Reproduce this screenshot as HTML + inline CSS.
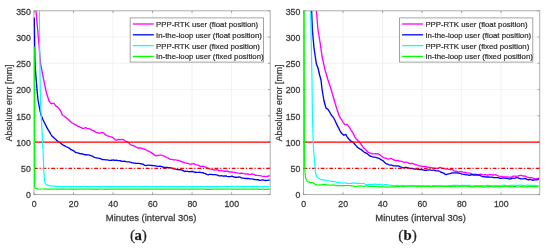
<!DOCTYPE html>
<html><head><meta charset="utf-8"><title>Absolute error</title>
<style>
html,body{margin:0;padding:0;background:#fff;}
body{width:550px;height:250px;overflow:hidden;}
svg{display:block;}
text{font-family:"Liberation Sans",Arial,Helvetica,sans-serif;fill:#3a3a3a;stroke:#3a3a3a;stroke-width:0.25px;}
.tl{font-size:8.2px;}
.al{font-size:9.2px;}
.yl{font-size:8.7px;}
.lt{font-size:7.8px;fill:#2a2a2a;stroke:#2a2a2a;stroke-width:0.2px;}
.grid{stroke:#ededed;stroke-width:0.7;}
.box{fill:none;stroke:#adadad;stroke-width:1;}
.tick{stroke:#8a8a8a;stroke-width:0.7;}
.lbox{fill:#fff;stroke:#9a9a9a;stroke-width:0.9;}
.cap{font-family:"Liberation Serif","DejaVu Serif",serif;font-size:15.3px;fill:#222;}
.capb{font-family:"Liberation Serif","DejaVu Serif",serif;font-size:14.8px;font-weight:bold;fill:#1a1a1a;}
</style></head><body>
<svg width="550" height="250" viewBox="0 0 550 250">
<rect width="550" height="250" fill="#ffffff"/>
<defs><clipPath id="c1"><rect x="33.40" y="10.80" width="237.40" height="183.75"/></clipPath><clipPath id="c2"><rect x="302.90" y="10.80" width="237.40" height="183.75"/></clipPath></defs>
<g>
<line x1="73.52" y1="10.80" x2="73.52" y2="194.55" class="grid"/>
<line x1="113.04" y1="10.80" x2="113.04" y2="194.55" class="grid"/>
<line x1="152.56" y1="10.80" x2="152.56" y2="194.55" class="grid"/>
<line x1="192.08" y1="10.80" x2="192.08" y2="194.55" class="grid"/>
<line x1="231.60" y1="10.80" x2="231.60" y2="194.55" class="grid"/>
<line x1="34.00" y1="168.30" x2="270.20" y2="168.30" class="grid"/>
<line x1="34.00" y1="142.05" x2="270.20" y2="142.05" class="grid"/>
<line x1="34.00" y1="115.80" x2="270.20" y2="115.80" class="grid"/>
<line x1="34.00" y1="89.55" x2="270.20" y2="89.55" class="grid"/>
<line x1="34.00" y1="63.30" x2="270.20" y2="63.30" class="grid"/>
<line x1="34.00" y1="37.05" x2="270.20" y2="37.05" class="grid"/>
</g>
<rect x="34.00" y="10.80" width="236.20" height="183.75" class="box"/>
<line x1="34.00" y1="194.55" x2="34.00" y2="192.35" class="tick"/>
<line x1="34.00" y1="10.80" x2="34.00" y2="13.00" class="tick"/>
<text transform="translate(34.20,207) scale(1.07,1)" class="tl" text-anchor="middle">0</text>
<line x1="73.52" y1="194.55" x2="73.52" y2="192.35" class="tick"/>
<line x1="73.52" y1="10.80" x2="73.52" y2="13.00" class="tick"/>
<text transform="translate(73.72,207) scale(1.07,1)" class="tl" text-anchor="middle">20</text>
<line x1="113.04" y1="194.55" x2="113.04" y2="192.35" class="tick"/>
<line x1="113.04" y1="10.80" x2="113.04" y2="13.00" class="tick"/>
<text transform="translate(113.24,207) scale(1.07,1)" class="tl" text-anchor="middle">40</text>
<line x1="152.56" y1="194.55" x2="152.56" y2="192.35" class="tick"/>
<line x1="152.56" y1="10.80" x2="152.56" y2="13.00" class="tick"/>
<text transform="translate(152.76,207) scale(1.07,1)" class="tl" text-anchor="middle">60</text>
<line x1="192.08" y1="194.55" x2="192.08" y2="192.35" class="tick"/>
<line x1="192.08" y1="10.80" x2="192.08" y2="13.00" class="tick"/>
<text transform="translate(192.28,207) scale(1.07,1)" class="tl" text-anchor="middle">80</text>
<line x1="231.60" y1="194.55" x2="231.60" y2="192.35" class="tick"/>
<line x1="231.60" y1="10.80" x2="231.60" y2="13.00" class="tick"/>
<text transform="translate(231.80,207) scale(1.07,1)" class="tl" text-anchor="middle">100</text>
<line x1="34.00" y1="194.55" x2="36.20" y2="194.55" class="tick"/>
<line x1="270.20" y1="194.55" x2="268.00" y2="194.55" class="tick"/>
<text transform="translate(30.85,198.40) scale(1.07,1)" class="tl" text-anchor="end">0</text>
<line x1="34.00" y1="168.30" x2="36.20" y2="168.30" class="tick"/>
<line x1="270.20" y1="168.30" x2="268.00" y2="168.30" class="tick"/>
<text transform="translate(30.85,172.15) scale(1.07,1)" class="tl" text-anchor="end">50</text>
<line x1="34.00" y1="142.05" x2="36.20" y2="142.05" class="tick"/>
<line x1="270.20" y1="142.05" x2="268.00" y2="142.05" class="tick"/>
<text transform="translate(30.85,145.90) scale(1.07,1)" class="tl" text-anchor="end">100</text>
<line x1="34.00" y1="115.80" x2="36.20" y2="115.80" class="tick"/>
<line x1="270.20" y1="115.80" x2="268.00" y2="115.80" class="tick"/>
<text transform="translate(30.85,119.65) scale(1.07,1)" class="tl" text-anchor="end">150</text>
<line x1="34.00" y1="89.55" x2="36.20" y2="89.55" class="tick"/>
<line x1="270.20" y1="89.55" x2="268.00" y2="89.55" class="tick"/>
<text transform="translate(30.85,93.40) scale(1.07,1)" class="tl" text-anchor="end">200</text>
<line x1="34.00" y1="63.30" x2="36.20" y2="63.30" class="tick"/>
<line x1="270.20" y1="63.30" x2="268.00" y2="63.30" class="tick"/>
<text transform="translate(30.85,67.15) scale(1.07,1)" class="tl" text-anchor="end">250</text>
<line x1="34.00" y1="37.05" x2="36.20" y2="37.05" class="tick"/>
<line x1="270.20" y1="37.05" x2="268.00" y2="37.05" class="tick"/>
<text transform="translate(30.85,40.90) scale(1.07,1)" class="tl" text-anchor="end">300</text>
<line x1="34.00" y1="10.80" x2="36.20" y2="10.80" class="tick"/>
<line x1="270.20" y1="10.80" x2="268.00" y2="10.80" class="tick"/>
<text transform="translate(30.85,14.65) scale(1.07,1)" class="tl" text-anchor="end">350</text>
<text transform="translate(151.05,220.8) scale(1.03,1)" class="al" text-anchor="middle">Minutes (interval 30s)</text>
<text transform="translate(12.00,102.98) rotate(-90)" class="yl" text-anchor="middle" textLength="76.6" lengthAdjust="spacing">Absolute error [mm]</text>
<g clip-path="url(#c1)" fill="none" stroke-width="1.35" stroke-linejoin="round" stroke-linecap="butt">
<path d="M36.0,10.8 L38.4,38.0 L40.6,64.0 L43.3,78.0 L46.2,92.0 L49.0,101.0 L50.0,102.4 L51.0,103.5 L52.0,103.7 L53.0,103.4 L54.0,103.4 L54.9,104.6 L55.9,106.0 L56.9,106.6 L57.9,107.6 L58.9,108.6 L59.9,109.7 L60.9,111.6 L61.9,114.1 L62.9,115.5 L63.9,116.0 L64.8,116.5 L65.8,117.4 L66.8,118.2 L67.8,119.1 L68.8,120.0 L69.8,121.0 L70.8,122.0 L71.8,122.8 L72.8,123.5 L73.8,124.0 L74.7,124.3 L75.7,124.9 L76.7,125.5 L77.7,126.1 L78.7,126.5 L79.7,126.8 L80.7,127.4 L81.7,127.9 L82.7,128.6 L83.7,128.4 L84.6,128.0 L85.6,127.7 L86.6,128.1 L87.6,128.6 L88.6,128.7 L89.6,128.8 L90.6,129.4 L91.6,130.0 L92.6,130.4 L93.6,130.6 L94.5,131.4 L95.5,132.1 L96.5,132.5 L97.5,132.7 L98.5,133.1 L99.5,133.2 L100.5,133.1 L101.5,132.7 L102.5,132.4 L103.5,132.8 L104.4,133.8 L105.4,134.6 L106.4,135.4 L107.4,135.8 L108.4,136.1 L109.4,136.4 L110.4,136.7 L111.4,136.9 L112.4,137.3 L113.4,138.1 L114.3,139.0 L115.3,139.9 L116.3,140.2 L117.3,139.8 L118.3,139.5 L119.3,139.7 L120.3,139.7 L121.3,139.6 L122.3,139.3 L123.3,139.6 L124.2,140.2 L125.2,141.0 L126.2,141.5 L127.2,141.8 L128.2,142.3 L129.2,143.4 L130.2,144.5 L131.2,145.0 L132.2,145.4 L133.2,145.6 L134.1,146.0 L135.1,146.4 L136.1,147.0 L137.1,147.6 L138.1,148.0 L139.1,148.0 L140.1,148.0 L141.1,148.2 L142.1,148.5 L143.1,148.8 L144.0,149.0 L145.0,149.3 L146.0,149.9 L147.0,150.3 L148.0,150.9 L149.0,151.3 L150.0,151.9 L151.0,152.4 L152.0,153.1 L153.0,153.9 L153.9,154.6 L154.9,155.2 L155.9,155.8 L156.9,155.6 L157.9,155.4 L158.9,155.3 L159.9,155.1 L160.9,155.2 L161.9,155.3 L162.9,155.6 L163.8,155.8 L164.8,156.4 L165.8,157.0 L166.8,157.6 L167.8,157.9 L168.8,158.4 L169.8,159.2 L170.8,159.3 L171.8,159.3 L172.8,159.6 L173.7,160.0 L174.7,159.8 L175.7,159.9 L176.7,160.1 L177.7,160.3 L178.7,160.4 L179.7,160.8 L180.7,161.4 L181.7,161.8 L182.7,162.0 L183.6,162.2 L184.6,162.6 L185.6,162.9 L186.6,163.2 L187.6,163.4 L188.6,163.7 L189.6,164.1 L190.6,164.2 L191.6,164.0 L192.6,163.8 L193.5,163.7 L194.5,164.0 L195.5,164.5 L196.5,164.9 L197.5,165.1 L198.5,165.4 L199.5,165.9 L200.5,166.4 L201.5,166.4 L202.5,166.2 L203.4,166.3 L204.4,166.6 L205.4,167.1 L206.4,167.6 L207.4,168.1 L208.4,168.7 L209.4,168.9 L210.4,169.2 L211.4,169.3 L212.4,169.6 L213.3,169.7 L214.3,170.0 L215.3,169.9 L216.3,169.7 L217.3,169.8 L218.3,170.5 L219.3,170.8 L220.3,170.7 L221.3,170.5 L222.3,170.9 L223.2,171.0 L224.2,171.2 L225.2,171.2 L226.2,171.2 L227.2,171.2 L228.2,171.5 L229.2,171.9 L230.2,172.0 L231.2,172.0 L232.2,172.0 L233.1,172.2 L234.1,172.4 L235.1,172.5 L236.1,172.7 L237.1,172.8 L238.1,173.2 L239.1,173.3 L240.1,173.5 L241.1,173.2 L242.1,173.2 L243.0,173.3 L244.0,173.7 L245.0,173.9 L246.0,174.0 L247.0,174.0 L248.0,174.0 L249.0,174.4 L250.0,174.4 L251.0,174.3 L252.0,174.0 L252.9,174.2 L253.9,174.4 L254.9,175.0 L255.9,175.3 L256.9,175.4 L257.9,175.4 L258.9,175.6 L259.9,175.7 L260.9,175.9 L261.9,176.2 L262.8,176.3 L263.8,176.4 L264.8,176.4 L265.8,176.6 L266.8,176.3 L267.8,176.3 L268.8,175.9 L269.8,175.6" stroke="#ff00ff"/>
<path d="M34.2,17.6 L34.6,40.0 L35.0,64.0 L36.2,80.0 L37.3,93.0 L38.0,100.0 L39.5,108.0 L41.0,115.0 L42.0,117.2 L43.0,119.8 L44.0,121.7 L45.0,123.7 L46.0,125.6 L46.9,127.7 L47.9,129.4 L48.9,130.9 L49.9,132.7 L50.9,134.5 L51.9,136.0 L52.9,136.9 L53.9,137.7 L54.9,138.7 L55.9,139.6 L56.8,140.4 L57.8,141.2 L58.8,141.9 L59.8,142.5 L60.8,143.3 L61.8,144.1 L62.8,144.8 L63.8,145.3 L64.8,145.9 L65.8,146.5 L66.7,146.9 L67.7,147.3 L68.7,147.8 L69.7,148.5 L70.7,149.5 L71.7,149.9 L72.7,150.3 L73.7,150.8 L74.7,151.8 L75.7,152.5 L76.6,152.7 L77.6,152.8 L78.6,153.2 L79.6,153.5 L80.6,153.8 L81.6,153.7 L82.6,154.0 L83.6,154.4 L84.6,154.7 L85.6,154.7 L86.5,154.7 L87.5,154.8 L88.5,154.9 L89.5,155.2 L90.5,155.6 L91.5,155.9 L92.5,156.2 L93.5,156.8 L94.5,157.3 L95.5,157.6 L96.4,157.8 L97.4,158.1 L98.4,158.2 L99.4,158.3 L100.4,158.6 L101.4,159.1 L102.4,159.5 L103.4,159.6 L104.4,159.7 L105.4,159.8 L106.3,159.8 L107.3,159.9 L108.3,160.2 L109.3,160.3 L110.3,160.3 L111.3,160.2 L112.3,160.2 L113.3,160.0 L114.3,160.3 L115.3,160.2 L116.2,160.2 L117.2,160.3 L118.2,160.6 L119.2,160.6 L120.2,160.6 L121.2,161.0 L122.2,161.3 L123.2,161.4 L124.2,161.1 L125.2,161.3 L126.1,161.7 L127.1,161.9 L128.1,161.9 L129.1,161.9 L130.1,162.2 L131.1,162.4 L132.1,162.8 L133.1,162.8 L134.1,163.0 L135.1,163.1 L136.0,163.4 L137.0,163.4 L138.0,163.3 L139.0,163.4 L140.0,163.6 L141.0,163.9 L142.0,164.0 L143.0,164.2 L144.0,164.8 L145.0,165.4 L145.9,165.6 L146.9,165.3 L147.9,165.1 L148.9,165.2 L149.9,165.4 L150.9,165.4 L151.9,165.5 L152.9,165.6 L153.9,165.7 L154.9,165.8 L155.8,165.8 L156.8,166.2 L157.8,166.3 L158.8,166.3 L159.8,166.1 L160.8,166.4 L161.8,166.7 L162.8,167.0 L163.8,167.3 L164.8,167.5 L165.7,167.5 L166.7,167.5 L167.7,167.5 L168.7,167.6 L169.7,167.7 L170.7,167.9 L171.7,168.2 L172.7,168.5 L173.7,168.9 L174.7,168.9 L175.6,169.1 L176.6,169.3 L177.6,169.7 L178.6,169.6 L179.6,169.7 L180.6,169.7 L181.6,169.8 L182.6,170.3 L183.6,170.9 L184.6,171.5 L185.5,171.2 L186.5,171.3 L187.5,171.3 L188.5,171.6 L189.5,171.7 L190.5,171.7 L191.5,171.4 L192.5,171.5 L193.5,171.8 L194.5,172.2 L195.4,172.2 L196.4,172.4 L197.4,172.4 L198.4,172.3 L199.4,172.2 L200.4,172.4 L201.4,172.6 L202.4,172.6 L203.4,173.0 L204.4,173.4 L205.3,173.6 L206.3,174.2 L207.3,174.6 L208.3,174.8 L209.3,174.4 L210.3,174.3 L211.3,174.4 L212.3,174.7 L213.3,174.6 L214.3,174.6 L215.2,174.7 L216.2,174.8 L217.2,175.0 L218.2,175.5 L219.2,175.8 L220.2,175.8 L221.2,175.7 L222.2,175.9 L223.2,176.2 L224.2,176.0 L225.1,175.9 L226.1,176.0 L227.1,176.4 L228.1,176.6 L229.1,176.7 L230.1,176.6 L231.1,176.4 L232.1,176.2 L233.1,176.6 L234.1,177.0 L235.0,177.2 L236.0,177.2 L237.0,177.3 L238.0,177.1 L239.0,177.0 L240.0,177.2 L241.0,177.7 L242.0,178.1 L243.0,178.1 L244.0,178.1 L244.9,178.3 L245.9,178.5 L246.9,178.5 L247.9,178.4 L248.9,178.6 L249.9,178.8 L250.9,178.9 L251.9,178.9 L252.9,179.1 L253.9,179.3 L254.8,179.5 L255.8,179.6 L256.8,179.7 L257.8,179.7 L258.8,180.0 L259.8,180.3 L260.8,180.2 L261.8,180.1 L262.8,180.0 L263.8,180.1 L264.7,180.3 L265.7,180.5 L266.7,180.4 L267.7,180.3 L268.7,180.1 L269.7,179.9" stroke="#0000ff"/>
<line x1="34.00" y1="142.05" x2="270.20" y2="142.05" stroke="#ff0000" stroke-width="1.2"/>
<line x1="34.00" y1="168.30" x2="270.20" y2="168.30" stroke="#ff0000" stroke-width="1.15" stroke-dasharray="3.7 1.9 1.1 1.9"/>
<path d="M39.4,10.8 L39.6,40.0 L39.9,64.0 L40.3,92.0 L40.8,110.0 L41.6,122.0 L42.4,140.0 L43.0,150.0 L43.8,170.0 L44.4,180.0 L45.1,183.0 L46.0,184.3 L47.5,185.2 L50.0,185.8 L51.0,186.1 L52.0,186.1 L53.0,186.1 L54.0,186.1 L55.0,186.2 L55.9,186.3 L56.9,186.3 L57.9,186.4 L58.9,186.4 L59.9,186.5 L60.9,186.5 L61.9,186.6 L62.9,186.6 L63.9,186.5 L64.9,186.5 L65.8,186.5 L66.8,186.5 L67.8,186.5 L68.8,186.5 L69.8,186.5 L70.8,186.6 L71.8,186.6 L72.8,186.6 L73.8,186.5 L74.8,186.5 L75.7,186.6 L76.7,186.6 L77.7,186.6 L78.7,186.6 L79.7,186.7 L80.7,186.6 L81.7,186.6 L82.7,186.5 L83.7,186.5 L84.7,186.5 L85.6,186.5 L86.6,186.6 L87.6,186.6 L88.6,186.6 L89.6,186.6 L90.6,186.6 L91.6,186.6 L92.6,186.5 L93.6,186.5 L94.6,186.6 L95.5,186.6 L96.5,186.5 L97.5,186.5 L98.5,186.6 L99.5,186.6 L100.5,186.7 L101.5,186.7 L102.5,186.7 L103.5,186.6 L104.5,186.6 L105.4,186.6 L106.4,186.6 L107.4,186.5 L108.4,186.6 L109.4,186.6 L110.4,186.7 L111.4,186.7 L112.4,186.6 L113.4,186.6 L114.4,186.6 L115.3,186.6 L116.3,186.6 L117.3,186.6 L118.3,186.6 L119.3,186.6 L120.3,186.6 L121.3,186.7 L122.3,186.7 L123.3,186.7 L124.3,186.6 L125.2,186.6 L126.2,186.6 L127.2,186.6 L128.2,186.6 L129.2,186.6 L130.2,186.6 L131.2,186.6 L132.2,186.6 L133.2,186.6 L134.2,186.6 L135.1,186.6 L136.1,186.5 L137.1,186.5 L138.1,186.5 L139.1,186.6 L140.1,186.6 L141.1,186.6 L142.1,186.6 L143.1,186.6 L144.1,186.6 L145.0,186.6 L146.0,186.6 L147.0,186.6 L148.0,186.7 L149.0,186.6 L150.0,186.6 L151.0,186.6 L152.0,186.6 L153.0,186.6 L154.0,186.6 L154.9,186.6 L155.9,186.6 L156.9,186.6 L157.9,186.6 L158.9,186.6 L159.9,186.6 L160.9,186.6 L161.9,186.6 L162.9,186.6 L163.9,186.6 L164.8,186.6 L165.8,186.6 L166.8,186.6 L167.8,186.6 L168.8,186.6 L169.8,186.6 L170.8,186.6 L171.8,186.5 L172.8,186.6 L173.8,186.6 L174.7,186.6 L175.7,186.6 L176.7,186.6 L177.7,186.6 L178.7,186.6 L179.7,186.7 L180.7,186.7 L181.7,186.6 L182.7,186.6 L183.7,186.6 L184.6,186.6 L185.6,186.6 L186.6,186.6 L187.6,186.5 L188.6,186.5 L189.6,186.6 L190.6,186.6 L191.6,186.6 L192.6,186.6 L193.6,186.6 L194.5,186.6 L195.5,186.6 L196.5,186.6 L197.5,186.6 L198.5,186.6 L199.5,186.6 L200.5,186.6 L201.5,186.6 L202.5,186.6 L203.5,186.6 L204.4,186.6 L205.4,186.6 L206.4,186.6 L207.4,186.6 L208.4,186.6 L209.4,186.6 L210.4,186.5 L211.4,186.6 L212.4,186.6 L213.4,186.6 L214.3,186.6 L215.3,186.5 L216.3,186.6 L217.3,186.6 L218.3,186.6 L219.3,186.5 L220.3,186.5 L221.3,186.5 L222.3,186.5 L223.3,186.5 L224.2,186.5 L225.2,186.5 L226.2,186.6 L227.2,186.6 L228.2,186.6 L229.2,186.6 L230.2,186.5 L231.2,186.5 L232.2,186.4 L233.2,186.4 L234.1,186.5 L235.1,186.5 L236.1,186.5 L237.1,186.5 L238.1,186.4 L239.1,186.4 L240.1,186.5 L241.1,186.5 L242.1,186.5 L243.1,186.5 L244.0,186.6 L245.0,186.6 L246.0,186.5 L247.0,186.5 L248.0,186.5 L249.0,186.5 L250.0,186.5 L251.0,186.5 L252.0,186.6 L253.0,186.6 L253.9,186.6 L254.9,186.5 L255.9,186.5 L256.9,186.5 L257.9,186.5 L258.9,186.5 L259.9,186.6 L260.9,186.5 L261.9,186.5 L262.9,186.5 L263.8,186.5 L264.8,186.5 L265.8,186.5 L266.8,186.5 L267.8,186.5 L268.8,186.5 L269.8,186.5" stroke="#00ffff" stroke-width="1.2"/>
<path d="M34.3,46.6 L34.4,100.0 L34.5,150.0 L34.6,185.0 L34.9,187.6 L35.6,188.4 L37.0,188.7 L38.0,189.0 L39.0,189.0 L40.0,189.0 L41.0,189.0 L42.0,189.0 L42.9,189.0 L43.9,189.1 L44.9,189.1 L45.9,189.1 L46.9,189.1 L47.9,189.1 L48.9,189.1 L49.9,189.1 L50.9,189.1 L51.9,189.1 L52.8,189.2 L53.8,189.2 L54.8,189.2 L55.8,189.2 L56.8,189.1 L57.8,189.2 L58.8,189.2 L59.8,189.2 L60.8,189.2 L61.8,189.3 L62.7,189.2 L63.7,189.2 L64.7,189.2 L65.7,189.2 L66.7,189.2 L67.7,189.2 L68.7,189.2 L69.7,189.1 L70.7,189.1 L71.7,189.2 L72.6,189.3 L73.6,189.3 L74.6,189.2 L75.6,189.2 L76.6,189.2 L77.6,189.2 L78.6,189.2 L79.6,189.2 L80.6,189.2 L81.6,189.2 L82.5,189.2 L83.5,189.2 L84.5,189.2 L85.5,189.2 L86.5,189.2 L87.5,189.2 L88.5,189.2 L89.5,189.2 L90.5,189.2 L91.5,189.2 L92.4,189.2 L93.4,189.2 L94.4,189.2 L95.4,189.3 L96.4,189.3 L97.4,189.3 L98.4,189.2 L99.4,189.2 L100.4,189.2 L101.4,189.2 L102.3,189.2 L103.3,189.2 L104.3,189.2 L105.3,189.3 L106.3,189.3 L107.3,189.3 L108.3,189.2 L109.3,189.2 L110.3,189.2 L111.3,189.2 L112.2,189.2 L113.2,189.2 L114.2,189.2 L115.2,189.2 L116.2,189.2 L117.2,189.1 L118.2,189.1 L119.2,189.1 L120.2,189.2 L121.2,189.2 L122.1,189.2 L123.1,189.2 L124.1,189.2 L125.1,189.2 L126.1,189.2 L127.1,189.2 L128.1,189.2 L129.1,189.2 L130.1,189.2 L131.1,189.2 L132.0,189.2 L133.0,189.2 L134.0,189.2 L135.0,189.2 L136.0,189.2 L137.0,189.2 L138.0,189.2 L139.0,189.2 L140.0,189.2 L141.0,189.2 L141.9,189.2 L142.9,189.2 L143.9,189.2 L144.9,189.2 L145.9,189.3 L146.9,189.2 L147.9,189.2 L148.9,189.1 L149.9,189.2 L150.9,189.2 L151.8,189.2 L152.8,189.2 L153.8,189.2 L154.8,189.2 L155.8,189.2 L156.8,189.2 L157.8,189.2 L158.8,189.2 L159.8,189.2 L160.8,189.2 L161.7,189.3 L162.7,189.2 L163.7,189.2 L164.7,189.2 L165.7,189.2 L166.7,189.2 L167.7,189.1 L168.7,189.2 L169.7,189.2 L170.7,189.2 L171.6,189.2 L172.6,189.2 L173.6,189.2 L174.6,189.1 L175.6,189.1 L176.6,189.1 L177.6,189.1 L178.6,189.2 L179.6,189.2 L180.6,189.2 L181.5,189.2 L182.5,189.2 L183.5,189.3 L184.5,189.3 L185.5,189.2 L186.5,189.2 L187.5,189.2 L188.5,189.2 L189.5,189.3 L190.5,189.2 L191.4,189.2 L192.4,189.2 L193.4,189.2 L194.4,189.2 L195.4,189.2 L196.4,189.2 L197.4,189.2 L198.4,189.1 L199.4,189.2 L200.4,189.2 L201.3,189.2 L202.3,189.2 L203.3,189.1 L204.3,189.2 L205.3,189.2 L206.3,189.3 L207.3,189.3 L208.3,189.3 L209.3,189.3 L210.3,189.3 L211.2,189.3 L212.2,189.2 L213.2,189.2 L214.2,189.2 L215.2,189.2 L216.2,189.2 L217.2,189.2 L218.2,189.2 L219.2,189.2 L220.2,189.2 L221.1,189.1 L222.1,189.2 L223.1,189.2 L224.1,189.2 L225.1,189.1 L226.1,189.2 L227.1,189.2 L228.1,189.2 L229.1,189.2 L230.1,189.2 L231.0,189.2 L232.0,189.2 L233.0,189.2 L234.0,189.2 L235.0,189.2 L236.0,189.2 L237.0,189.3 L238.0,189.3 L239.0,189.2 L240.0,189.1 L240.9,189.2 L241.9,189.2 L242.9,189.2 L243.9,189.2 L244.9,189.2 L245.9,189.2 L246.9,189.2 L247.9,189.2 L248.9,189.2 L249.9,189.2 L250.8,189.2 L251.8,189.2 L252.8,189.2 L253.8,189.2 L254.8,189.2 L255.8,189.2 L256.8,189.2 L257.8,189.1 L258.8,189.2 L259.8,189.3 L260.7,189.3 L261.7,189.2 L262.7,189.2 L263.7,189.2 L264.7,189.3 L265.7,189.3 L266.7,189.3 L267.7,189.3 L268.7,189.2 L269.7,189.2" stroke="#00ff00" stroke-width="1.2"/>
</g>
<g>
<line x1="343.02" y1="10.80" x2="343.02" y2="194.55" class="grid"/>
<line x1="382.54" y1="10.80" x2="382.54" y2="194.55" class="grid"/>
<line x1="422.06" y1="10.80" x2="422.06" y2="194.55" class="grid"/>
<line x1="461.58" y1="10.80" x2="461.58" y2="194.55" class="grid"/>
<line x1="501.10" y1="10.80" x2="501.10" y2="194.55" class="grid"/>
<line x1="303.50" y1="168.30" x2="539.70" y2="168.30" class="grid"/>
<line x1="303.50" y1="142.05" x2="539.70" y2="142.05" class="grid"/>
<line x1="303.50" y1="115.80" x2="539.70" y2="115.80" class="grid"/>
<line x1="303.50" y1="89.55" x2="539.70" y2="89.55" class="grid"/>
<line x1="303.50" y1="63.30" x2="539.70" y2="63.30" class="grid"/>
<line x1="303.50" y1="37.05" x2="539.70" y2="37.05" class="grid"/>
</g>
<rect x="303.50" y="10.80" width="236.20" height="183.75" class="box"/>
<line x1="303.50" y1="194.55" x2="303.50" y2="192.35" class="tick"/>
<line x1="303.50" y1="10.80" x2="303.50" y2="13.00" class="tick"/>
<text transform="translate(303.70,207) scale(1.07,1)" class="tl" text-anchor="middle">0</text>
<line x1="343.02" y1="194.55" x2="343.02" y2="192.35" class="tick"/>
<line x1="343.02" y1="10.80" x2="343.02" y2="13.00" class="tick"/>
<text transform="translate(343.22,207) scale(1.07,1)" class="tl" text-anchor="middle">20</text>
<line x1="382.54" y1="194.55" x2="382.54" y2="192.35" class="tick"/>
<line x1="382.54" y1="10.80" x2="382.54" y2="13.00" class="tick"/>
<text transform="translate(382.74,207) scale(1.07,1)" class="tl" text-anchor="middle">40</text>
<line x1="422.06" y1="194.55" x2="422.06" y2="192.35" class="tick"/>
<line x1="422.06" y1="10.80" x2="422.06" y2="13.00" class="tick"/>
<text transform="translate(422.26,207) scale(1.07,1)" class="tl" text-anchor="middle">60</text>
<line x1="461.58" y1="194.55" x2="461.58" y2="192.35" class="tick"/>
<line x1="461.58" y1="10.80" x2="461.58" y2="13.00" class="tick"/>
<text transform="translate(461.78,207) scale(1.07,1)" class="tl" text-anchor="middle">80</text>
<line x1="501.10" y1="194.55" x2="501.10" y2="192.35" class="tick"/>
<line x1="501.10" y1="10.80" x2="501.10" y2="13.00" class="tick"/>
<text transform="translate(501.30,207) scale(1.07,1)" class="tl" text-anchor="middle">100</text>
<line x1="303.50" y1="194.55" x2="305.70" y2="194.55" class="tick"/>
<line x1="539.70" y1="194.55" x2="537.50" y2="194.55" class="tick"/>
<text transform="translate(300.35,198.40) scale(1.07,1)" class="tl" text-anchor="end">0</text>
<line x1="303.50" y1="168.30" x2="305.70" y2="168.30" class="tick"/>
<line x1="539.70" y1="168.30" x2="537.50" y2="168.30" class="tick"/>
<text transform="translate(300.35,172.15) scale(1.07,1)" class="tl" text-anchor="end">50</text>
<line x1="303.50" y1="142.05" x2="305.70" y2="142.05" class="tick"/>
<line x1="539.70" y1="142.05" x2="537.50" y2="142.05" class="tick"/>
<text transform="translate(300.35,145.90) scale(1.07,1)" class="tl" text-anchor="end">100</text>
<line x1="303.50" y1="115.80" x2="305.70" y2="115.80" class="tick"/>
<line x1="539.70" y1="115.80" x2="537.50" y2="115.80" class="tick"/>
<text transform="translate(300.35,119.65) scale(1.07,1)" class="tl" text-anchor="end">150</text>
<line x1="303.50" y1="89.55" x2="305.70" y2="89.55" class="tick"/>
<line x1="539.70" y1="89.55" x2="537.50" y2="89.55" class="tick"/>
<text transform="translate(300.35,93.40) scale(1.07,1)" class="tl" text-anchor="end">200</text>
<line x1="303.50" y1="63.30" x2="305.70" y2="63.30" class="tick"/>
<line x1="539.70" y1="63.30" x2="537.50" y2="63.30" class="tick"/>
<text transform="translate(300.35,67.15) scale(1.07,1)" class="tl" text-anchor="end">250</text>
<line x1="303.50" y1="37.05" x2="305.70" y2="37.05" class="tick"/>
<line x1="539.70" y1="37.05" x2="537.50" y2="37.05" class="tick"/>
<text transform="translate(300.35,40.90) scale(1.07,1)" class="tl" text-anchor="end">300</text>
<line x1="303.50" y1="10.80" x2="305.70" y2="10.80" class="tick"/>
<line x1="539.70" y1="10.80" x2="537.50" y2="10.80" class="tick"/>
<text transform="translate(300.35,14.65) scale(1.07,1)" class="tl" text-anchor="end">350</text>
<text transform="translate(420.55,220.8) scale(1.03,1)" class="al" text-anchor="middle">Minutes (interval 30s)</text>
<text transform="translate(281.50,102.98) rotate(-90)" class="yl" text-anchor="middle" textLength="76.6" lengthAdjust="spacing">Absolute error [mm]</text>
<g clip-path="url(#c2)" fill="none" stroke-width="1.35" stroke-linejoin="round" stroke-linecap="butt">
<path d="M316.4,10.8 L318.0,30.0 L320.0,42.0 L322.0,56.0 L325.0,70.0 L326.6,75.0 L328.0,80.0 L331.0,89.0 L335.0,103.0 L339.0,115.5 L340.0,117.4 L341.0,118.9 L342.0,120.5 L343.0,122.1 L344.0,123.4 L344.9,124.5 L345.9,125.0 L346.9,124.2 L347.9,125.3 L348.9,126.6 L349.9,128.1 L350.9,129.8 L351.9,131.4 L352.9,133.0 L353.9,134.8 L354.8,137.1 L355.8,138.4 L356.8,139.4 L357.8,140.4 L358.8,141.6 L359.8,142.5 L360.8,143.8 L361.8,145.3 L362.8,146.7 L363.8,148.0 L364.7,148.8 L365.7,149.7 L366.7,150.7 L367.7,151.8 L368.7,152.4 L369.7,152.8 L370.7,153.2 L371.7,153.5 L372.7,153.9 L373.7,153.9 L374.6,153.9 L375.6,153.7 L376.6,153.8 L377.6,153.6 L378.6,154.0 L379.6,154.6 L380.6,155.5 L381.6,156.2 L382.6,157.0 L383.6,157.6 L384.5,158.1 L385.5,158.2 L386.5,158.3 L387.5,158.8 L388.5,159.1 L389.5,158.9 L390.5,158.5 L391.5,158.7 L392.5,159.2 L393.5,159.6 L394.4,160.2 L395.4,160.5 L396.4,160.7 L397.4,160.5 L398.4,160.7 L399.4,161.0 L400.4,161.1 L401.4,161.3 L402.4,161.6 L403.4,162.1 L404.3,162.3 L405.3,162.1 L406.3,162.2 L407.3,162.3 L408.3,163.0 L409.3,163.4 L410.3,163.7 L411.3,163.5 L412.3,163.3 L413.3,163.7 L414.2,164.2 L415.2,164.5 L416.2,164.5 L417.2,165.1 L418.2,165.6 L419.2,165.9 L420.2,165.9 L421.2,166.2 L422.2,166.5 L423.2,166.5 L424.1,166.4 L425.1,166.4 L426.1,166.6 L427.1,166.9 L428.1,167.3 L429.1,167.5 L430.1,167.4 L431.1,167.6 L432.1,167.8 L433.1,168.1 L434.0,168.2 L435.0,168.3 L436.0,168.4 L437.0,168.5 L438.0,168.4 L439.0,167.8 L440.0,167.4 L441.0,167.7 L442.0,168.3 L443.0,168.3 L443.9,168.7 L444.9,168.8 L445.9,169.0 L446.9,169.0 L447.9,169.2 L448.9,169.4 L449.9,169.6 L450.9,169.6 L451.9,169.5 L452.9,169.9 L453.8,170.9 L454.8,171.2 L455.8,171.2 L456.8,171.4 L457.8,171.9 L458.8,172.0 L459.8,171.8 L460.8,171.6 L461.8,171.7 L462.8,172.1 L463.7,172.3 L464.7,172.3 L465.7,172.5 L466.7,172.9 L467.7,173.1 L468.7,173.1 L469.7,173.2 L470.7,173.4 L471.7,173.8 L472.7,174.3 L473.6,174.3 L474.6,174.2 L475.6,174.1 L476.6,174.4 L477.6,174.6 L478.6,174.7 L479.6,174.5 L480.6,174.2 L481.6,174.3 L482.6,174.6 L483.5,174.8 L484.5,174.7 L485.5,174.6 L486.5,174.8 L487.5,175.0 L488.5,174.9 L489.5,174.6 L490.5,174.6 L491.5,174.7 L492.5,175.0 L493.4,175.0 L494.4,174.8 L495.4,174.7 L496.4,175.0 L497.4,175.6 L498.4,175.9 L499.4,176.2 L500.4,176.3 L501.4,176.5 L502.4,176.6 L503.3,176.8 L504.3,176.8 L505.3,176.8 L506.3,176.8 L507.3,176.8 L508.3,177.1 L509.3,177.2 L510.3,177.3 L511.3,177.0 L512.3,176.7 L513.2,176.2 L514.2,176.1 L515.2,176.1 L516.2,176.3 L517.2,176.1 L518.2,176.0 L519.2,175.7 L520.2,175.4 L521.2,175.3 L522.2,175.7 L523.1,176.0 L524.1,176.0 L525.1,176.1 L526.1,176.4 L527.1,177.0 L528.1,177.5 L529.1,177.7 L530.1,177.6 L531.1,177.7 L532.1,177.9 L533.0,178.2 L534.0,178.3 L535.0,178.6 L536.0,178.8 L537.0,178.6 L538.0,178.4 L539.0,178.4" stroke="#ff00ff"/>
<path d="M311.6,10.8 L312.4,30.0 L313.3,40.0 L314.0,48.0 L316.4,64.0 L318.0,68.0 L319.6,75.0 L321.0,80.0 L322.0,89.0 L324.0,101.0 L326.0,108.0 L328.0,109.4 L329.6,112.0 L331.0,114.5 L332.0,115.9 L333.0,117.0 L334.0,118.5 L335.0,120.5 L336.0,122.7 L336.9,124.6 L337.9,126.6 L338.9,128.5 L339.9,130.6 L340.9,132.3 L341.9,133.5 L342.9,134.4 L343.9,135.2 L344.9,134.8 L345.9,134.5 L346.8,136.3 L347.8,137.8 L348.8,139.0 L349.8,140.0 L350.8,141.1 L351.8,141.6 L352.8,142.2 L353.8,143.0 L354.8,144.2 L355.8,145.4 L356.7,146.4 L357.7,147.5 L358.7,148.1 L359.7,148.8 L360.7,149.3 L361.7,149.9 L362.7,150.9 L363.7,151.8 L364.7,152.5 L365.7,152.8 L366.6,153.3 L367.6,154.0 L368.6,154.9 L369.6,155.7 L370.6,156.3 L371.6,156.4 L372.6,156.8 L373.6,157.1 L374.6,157.2 L375.6,157.3 L376.5,157.7 L377.5,158.0 L378.5,158.1 L379.5,158.6 L380.5,159.3 L381.5,159.9 L382.5,160.5 L383.5,161.1 L384.5,162.2 L385.5,163.2 L386.4,163.8 L387.4,164.0 L388.4,164.5 L389.4,164.9 L390.4,165.1 L391.4,165.1 L392.4,165.4 L393.4,165.8 L394.4,165.9 L395.4,165.9 L396.3,166.0 L397.3,165.9 L398.3,165.9 L399.3,166.3 L400.3,166.8 L401.3,167.2 L402.3,167.6 L403.3,167.8 L404.3,167.6 L405.3,167.5 L406.2,167.4 L407.2,167.6 L408.2,167.8 L409.2,168.2 L410.2,168.6 L411.2,168.5 L412.2,168.5 L413.2,168.6 L414.2,169.0 L415.2,169.1 L416.1,169.1 L417.1,169.2 L418.1,169.3 L419.1,169.5 L420.1,169.5 L421.1,169.5 L422.1,169.5 L423.1,169.9 L424.1,170.2 L425.1,170.2 L426.0,170.2 L427.0,170.2 L428.0,170.1 L429.0,169.8 L430.0,169.8 L431.0,170.1 L432.0,170.3 L433.0,170.1 L434.0,170.2 L435.0,170.5 L435.9,170.9 L436.9,170.9 L437.9,170.9 L438.9,171.0 L439.9,171.5 L440.9,172.2 L441.9,172.5 L442.9,172.8 L443.9,173.2 L444.9,174.2 L445.8,174.6 L446.8,174.5 L447.8,174.0 L448.8,173.9 L449.8,173.7 L450.8,173.4 L451.8,173.0 L452.8,172.9 L453.8,172.9 L454.8,172.8 L455.7,172.9 L456.7,172.9 L457.7,173.1 L458.7,173.2 L459.7,173.4 L460.7,173.7 L461.7,174.0 L462.7,174.2 L463.7,174.3 L464.7,174.5 L465.6,174.7 L466.6,174.9 L467.6,174.9 L468.6,175.1 L469.6,175.3 L470.6,175.0 L471.6,174.7 L472.6,174.7 L473.6,175.2 L474.6,175.0 L475.5,175.0 L476.5,175.0 L477.5,175.0 L478.5,174.9 L479.5,175.1 L480.5,175.7 L481.5,176.2 L482.5,176.6 L483.5,176.7 L484.5,176.7 L485.4,176.8 L486.4,177.0 L487.4,177.0 L488.4,177.0 L489.4,177.1 L490.4,177.1 L491.4,177.1 L492.4,177.2 L493.4,177.5 L494.4,177.6 L495.3,177.6 L496.3,177.6 L497.3,177.6 L498.3,177.7 L499.3,178.0 L500.3,178.3 L501.3,178.3 L502.3,178.2 L503.3,178.1 L504.3,178.2 L505.2,178.1 L506.2,178.3 L507.2,178.4 L508.2,178.7 L509.2,178.9 L510.2,179.0 L511.2,178.6 L512.2,178.1 L513.2,178.1 L514.2,178.3 L515.1,178.1 L516.1,177.7 L517.1,177.6 L518.1,177.8 L519.1,178.4 L520.1,178.6 L521.1,178.9 L522.1,178.8 L523.1,178.8 L524.1,178.7 L525.0,178.4 L526.0,178.8 L527.0,179.3 L528.0,179.7 L529.0,179.7 L530.0,179.5 L531.0,179.7 L532.0,179.8 L533.0,180.3 L534.0,179.9 L534.9,179.8 L535.9,179.7 L536.9,179.8 L537.9,179.3 L538.9,179.0" stroke="#0000ff"/>
<line x1="303.50" y1="142.05" x2="539.70" y2="142.05" stroke="#ff0000" stroke-width="1.2"/>
<line x1="303.50" y1="168.30" x2="539.70" y2="168.30" stroke="#ff0000" stroke-width="1.15" stroke-dasharray="3.7 1.9 1.1 1.9"/>
<path d="M310.6,10.8 L311.0,30.0 L311.6,60.0 L312.0,80.0 L312.4,115.0 L313.0,135.0 L313.6,150.0 L314.6,162.0 L315.4,172.0 L316.4,176.0 L318.0,177.8 L320.0,179.0 L321.0,179.4 L322.0,179.6 L323.0,179.8 L324.0,179.9 L325.0,180.1 L325.9,180.2 L326.9,180.5 L327.9,180.7 L328.9,181.0 L329.9,181.0 L330.9,181.1 L331.9,181.4 L332.9,181.6 L333.9,181.6 L334.9,181.8 L335.8,182.0 L336.8,182.3 L337.8,182.3 L338.8,182.5 L339.8,182.7 L340.8,182.9 L341.8,183.0 L342.8,183.2 L343.8,183.1 L344.8,183.0 L345.7,182.9 L346.7,183.2 L347.7,183.4 L348.7,183.5 L349.7,183.5 L350.7,183.4 L351.7,183.4 L352.7,183.1 L353.7,183.1 L354.7,182.9 L355.6,183.1 L356.6,183.3 L357.6,183.3 L358.6,183.3 L359.6,183.3 L360.6,183.5 L361.6,183.6 L362.6,183.5 L363.6,183.4 L364.6,183.7 L365.5,184.2 L366.5,184.6 L367.5,184.5 L368.5,184.5 L369.5,184.6 L370.5,184.6 L371.5,184.5 L372.5,184.4 L373.5,184.4 L374.5,184.2 L375.4,184.2 L376.4,184.3 L377.4,184.5 L378.4,184.5 L379.4,184.4 L380.4,184.3 L381.4,184.6 L382.4,184.8 L383.4,184.7 L384.4,184.5 L385.3,184.5 L386.3,184.6 L387.3,184.7 L388.3,185.0 L389.3,185.1 L390.3,185.2 L391.3,185.3 L392.3,185.6 L393.3,185.6 L394.3,185.5 L395.2,185.5 L396.2,185.6 L397.2,185.4 L398.2,185.4 L399.2,185.6 L400.2,185.8 L401.2,185.6 L402.2,185.5 L403.2,185.4 L404.2,185.5 L405.1,185.6 L406.1,185.9 L407.1,186.0 L408.1,185.9 L409.1,185.8 L410.1,185.8 L411.1,185.7 L412.1,185.6 L413.1,185.6 L414.1,185.8 L415.0,186.1 L416.0,186.0 L417.0,185.7 L418.0,185.6 L419.0,185.7 L420.0,185.8 L421.0,185.8 L422.0,185.7 L423.0,185.7 L424.0,185.9 L424.9,185.9 L425.9,186.1 L426.9,186.0 L427.9,185.9 L428.9,185.8 L429.9,185.9 L430.9,186.0 L431.9,185.9 L432.9,185.7 L433.9,185.7 L434.8,185.8 L435.8,185.7 L436.8,185.8 L437.8,185.9 L438.8,185.8 L439.8,185.7 L440.8,185.8 L441.8,185.8 L442.8,185.8 L443.8,185.9 L444.7,185.9 L445.7,185.9 L446.7,185.9 L447.7,185.8 L448.7,185.6 L449.7,185.6 L450.7,185.6 L451.7,185.6 L452.7,185.4 L453.7,185.4 L454.6,185.4 L455.6,185.3 L456.6,185.3 L457.6,185.4 L458.6,185.6 L459.6,185.6 L460.6,185.5 L461.6,185.3 L462.6,185.3 L463.6,185.4 L464.5,185.4 L465.5,185.5 L466.5,185.4 L467.5,185.4 L468.5,185.3 L469.5,185.4 L470.5,185.5 L471.5,185.8 L472.5,185.9 L473.5,185.8 L474.4,185.6 L475.4,185.7 L476.4,185.9 L477.4,185.7 L478.4,185.6 L479.4,185.7 L480.4,185.7 L481.4,185.6 L482.4,185.6 L483.4,185.7 L484.3,185.6 L485.3,185.5 L486.3,185.4 L487.3,185.3 L488.3,185.4 L489.3,185.5 L490.3,185.6 L491.3,185.6 L492.3,185.5 L493.3,185.5 L494.2,185.7 L495.2,185.6 L496.2,185.5 L497.2,185.4 L498.2,185.5 L499.2,185.5 L500.2,185.7 L501.2,185.7 L502.2,185.4 L503.2,185.1 L504.1,185.2 L505.1,185.4 L506.1,185.6 L507.1,185.6 L508.1,185.5 L509.1,185.5 L510.1,185.4 L511.1,185.3 L512.1,185.3 L513.1,185.3 L514.0,185.4 L515.0,185.4 L516.0,185.6 L517.0,185.4 L518.0,185.3 L519.0,185.2 L520.0,185.2 L521.0,185.1 L522.0,185.3 L523.0,185.5 L523.9,185.6 L524.9,185.5 L525.9,185.4 L526.9,185.2 L527.9,185.2 L528.9,185.3 L529.9,185.4 L530.9,185.5 L531.9,185.4 L532.9,185.3 L533.8,185.3 L534.8,185.3 L535.8,185.4 L536.8,185.5 L537.8,185.6 L538.8,185.6" stroke="#00ffff" stroke-width="1.2"/>
<path d="M304.2,10.8 L304.3,80.0 L304.4,150.0 L304.8,170.0 L305.6,178.0 L307.0,181.0 L308.5,181.9 L310.0,182.4 L311.0,182.7 L312.0,182.7 L313.0,182.7 L314.0,183.4 L315.0,184.1 L315.9,184.7 L316.9,184.9 L317.9,185.0 L318.9,184.9 L319.9,185.1 L320.9,184.9 L321.9,184.8 L322.9,184.4 L323.9,184.3 L324.9,184.5 L325.8,184.7 L326.8,184.8 L327.8,184.8 L328.8,185.0 L329.8,185.1 L330.8,185.1 L331.8,185.1 L332.8,185.1 L333.8,185.1 L334.8,185.2 L335.7,185.6 L336.7,185.7 L337.7,185.6 L338.7,185.7 L339.7,185.7 L340.7,185.7 L341.7,185.6 L342.7,185.6 L343.7,185.6 L344.7,185.6 L345.6,185.5 L346.6,185.5 L347.6,185.4 L348.6,185.5 L349.6,185.6 L350.6,185.7 L351.6,185.9 L352.6,186.0 L353.6,186.1 L354.6,186.3 L355.5,186.5 L356.5,186.3 L357.5,186.2 L358.5,186.1 L359.5,186.1 L360.5,185.9 L361.5,186.0 L362.5,186.2 L363.5,186.3 L364.5,186.3 L365.4,185.9 L366.4,185.8 L367.4,186.0 L368.4,186.2 L369.4,186.4 L370.4,186.4 L371.4,186.5 L372.4,186.4 L373.4,186.4 L374.4,186.4 L375.3,186.3 L376.3,186.5 L377.3,186.7 L378.3,186.8 L379.3,186.8 L380.3,186.9 L381.3,186.9 L382.3,186.8 L383.3,186.8 L384.3,186.9 L385.2,187.0 L386.2,187.1 L387.2,187.0 L388.2,187.1 L389.2,187.0 L390.2,186.8 L391.2,186.8 L392.2,186.9 L393.2,186.9 L394.2,186.9 L395.1,186.7 L396.1,186.6 L397.1,186.4 L398.1,186.5 L399.1,186.4 L400.1,186.2 L401.1,186.0 L402.1,186.3 L403.1,186.7 L404.1,186.6 L405.0,186.5 L406.0,186.4 L407.0,186.2 L408.0,186.0 L409.0,186.1 L410.0,186.2 L411.0,186.1 L412.0,186.1 L413.0,186.2 L414.0,186.2 L414.9,186.1 L415.9,186.2 L416.9,186.6 L417.9,186.6 L418.9,186.4 L419.9,186.4 L420.9,186.6 L421.9,186.5 L422.9,186.4 L423.9,186.4 L424.8,186.4 L425.8,186.2 L426.8,186.1 L427.8,186.0 L428.8,186.1 L429.8,186.5 L430.8,186.7 L431.8,186.6 L432.8,186.4 L433.8,186.4 L434.7,186.3 L435.7,186.1 L436.7,186.1 L437.7,186.3 L438.7,186.3 L439.7,186.0 L440.7,186.2 L441.7,186.2 L442.7,186.4 L443.7,186.4 L444.6,186.5 L445.6,186.3 L446.6,186.3 L447.6,186.4 L448.6,186.5 L449.6,186.6 L450.6,186.7 L451.6,186.6 L452.6,186.4 L453.6,186.3 L454.5,186.2 L455.5,186.3 L456.5,186.2 L457.5,186.1 L458.5,186.2 L459.5,186.4 L460.5,186.3 L461.5,186.2 L462.5,186.2 L463.5,186.3 L464.4,186.1 L465.4,186.1 L466.4,186.2 L467.4,186.4 L468.4,186.3 L469.4,186.3 L470.4,186.7 L471.4,186.9 L472.4,186.8 L473.4,186.6 L474.3,186.6 L475.3,186.6 L476.3,186.5 L477.3,186.5 L478.3,186.5 L479.3,186.6 L480.3,186.5 L481.3,186.6 L482.3,186.8 L483.3,186.7 L484.2,186.8 L485.2,186.9 L486.2,186.8 L487.2,186.4 L488.2,186.3 L489.2,186.3 L490.2,186.5 L491.2,186.5 L492.2,186.7 L493.2,186.8 L494.1,186.9 L495.1,186.7 L496.1,186.5 L497.1,186.6 L498.1,186.7 L499.1,186.8 L500.1,186.6 L501.1,186.6 L502.1,186.6 L503.1,186.5 L504.0,186.6 L505.0,186.4 L506.0,186.4 L507.0,186.4 L508.0,186.5 L509.0,186.7 L510.0,186.7 L511.0,186.7 L512.0,186.5 L513.0,186.5 L513.9,186.4 L514.9,186.5 L515.9,186.5 L516.9,186.9 L517.9,187.0 L518.9,186.9 L519.9,186.7 L520.9,186.6 L521.9,186.6 L522.9,186.6 L523.8,186.8 L524.8,186.9 L525.8,186.8 L526.8,186.7 L527.8,186.6 L528.8,186.5 L529.8,186.6 L530.8,186.6 L531.8,186.6 L532.8,186.6 L533.7,186.7 L534.7,186.7 L535.7,186.6 L536.7,186.8 L537.7,186.8 L538.7,186.7" stroke="#00ff00" stroke-width="1.2"/>
</g>
<rect x="130.20" y="17.90" width="133.30" height="44.20" class="lbox"/>
<line x1="132.80" y1="24.00" x2="153.80" y2="24.00" stroke="#ff00ff" stroke-width="1.3"/>
<text x="156.10" y="26.95" class="lt">PPP-RTK user (float position)</text>
<line x1="132.80" y1="34.80" x2="153.80" y2="34.80" stroke="#0000ff" stroke-width="1.3"/>
<text x="156.10" y="37.75" class="lt">In-the-loop user (float position)</text>
<line x1="132.80" y1="45.60" x2="153.80" y2="45.60" stroke="#00ffff" stroke-width="1.3"/>
<text x="156.10" y="48.55" class="lt">PPP-RTK user (fixed position)</text>
<line x1="132.80" y1="56.40" x2="153.80" y2="56.40" stroke="#00ff00" stroke-width="1.3"/>
<text x="156.10" y="59.35" class="lt">In-the-loop user (fixed position)</text>
<rect x="399.50" y="17.90" width="133.30" height="44.20" class="lbox"/>
<line x1="402.10" y1="24.00" x2="423.10" y2="24.00" stroke="#ff00ff" stroke-width="1.3"/>
<text x="425.40" y="26.95" class="lt">PPP-RTK user (float position)</text>
<line x1="402.10" y1="34.80" x2="423.10" y2="34.80" stroke="#0000ff" stroke-width="1.3"/>
<text x="425.40" y="37.75" class="lt">In-the-loop user (float position)</text>
<line x1="402.10" y1="45.60" x2="423.10" y2="45.60" stroke="#00ffff" stroke-width="1.3"/>
<text x="425.40" y="48.55" class="lt">PPP-RTK user (fixed position)</text>
<line x1="402.10" y1="56.40" x2="423.10" y2="56.40" stroke="#00ff00" stroke-width="1.3"/>
<text x="425.40" y="59.35" class="lt">In-the-loop user (fixed position)</text>
<text x="130.00" y="239.6" class="cap">(</text><text x="138.30" y="239.8" class="capb" text-anchor="middle">a</text><text x="146.90" y="239.6" class="cap" text-anchor="end">)</text>
<text x="398.30" y="239.6" class="cap">(</text><text x="407.60" y="239.8" class="capb" text-anchor="middle">b</text><text x="416.90" y="239.6" class="cap" text-anchor="end">)</text>
</svg>
</body></html>
